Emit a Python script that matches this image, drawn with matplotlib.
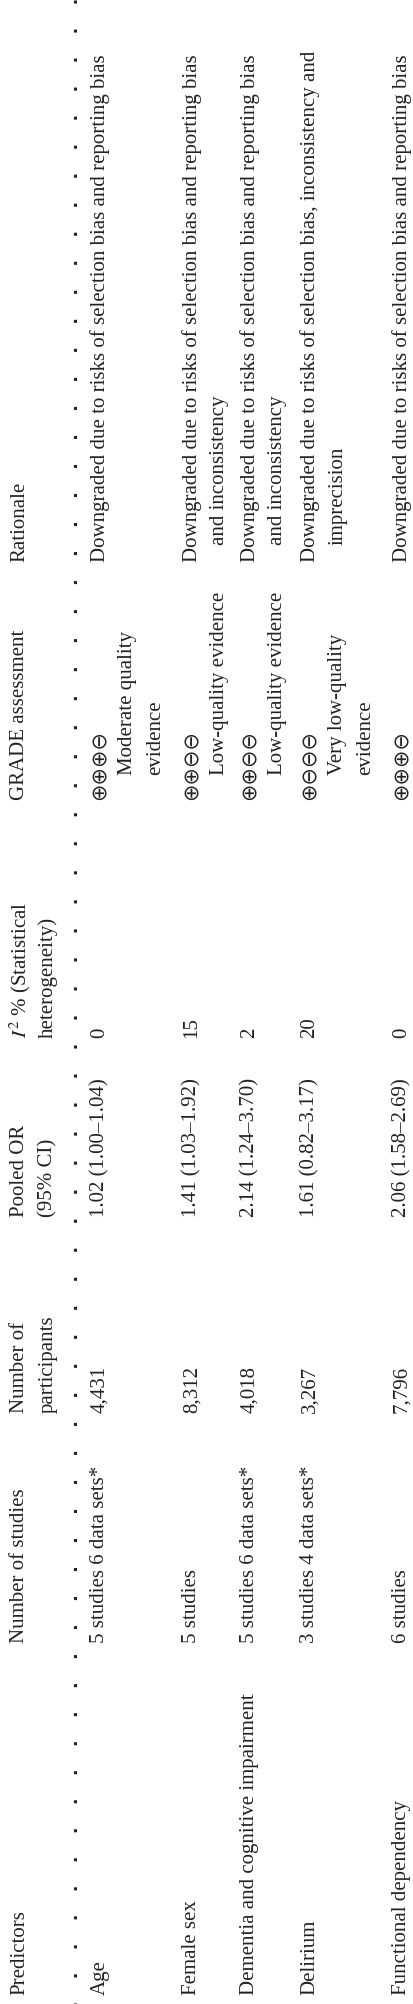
import matplotlib
matplotlib.use("Agg")
import matplotlib.pyplot as plt

plt.rcParams["font.family"] = ["Liberation Serif", "DejaVu Serif", "DejaVu Sans"]
plt.rcParams["mathtext.fontset"] = "stix"

# ===============================
# Table data
# ===============================

headers = [
    ["Predictors"],
    ["Number of studies"],
    ["Number of", "participants"],
    ["Pooled OR", "(95% CI)"],
    ["$\\mathit{I}^2$ % (Statistical", "heterogeneity)"],
    ["GRADE assessment"],
    ["Rationale"],
]
predictors = ["Age", "Female sex", "Dementia and cognitive impairment", "Delirium", "Functional dependency"]
studies = ["5 studies 6 data sets*", "5 studies", "5 studies 6 data sets*", "3 studies 4 data sets*", "6 studies"]
participants = ["4,431", "8,312", "4,018", "3,267", "7,796"]
pooled_or = ["1.02 (1.00\u20131.04)", "1.41 (1.03\u20131.92)", "2.14 (1.24\u20133.70)",
             "1.61 (0.82\u20133.17)", "2.06 (1.58\u20132.69)"]
i2 = ["0", "15", "2", "20", "0"]
grade_symbols = ["\u2295\u2295\u2295\u2296", "\u2295\u2295\u2296\u2296", "\u2295\u2295\u2296\u2296",
                 "\u2295\u2296\u2296\u2296", "\u2295\u2295\u2295\u2296"]
grade_labels = [["Moderate quality", "evidence"], ["Low-quality evidence"], ["Low-quality evidence"],
                ["Very low-quality", "evidence"], []]
rationale = [
    ["Downgraded due to risks of selection bias and reporting bias"],
    ["Downgraded due to risks of selection bias and reporting bias", "and inconsistency"],
    ["Downgraded due to risks of selection bias and reporting bias", "and inconsistency"],
    ["Downgraded due to risks of selection bias, inconsistency and", "imprecision"],
    ["Downgraded due to risks of selection bias and reporting bias"],
]

# ===============================
# Layout (pixels, page rotated 90 degrees)
# ===============================

W, H = 414, 2004
col_start = [1995, 1643, 1413, 1217, 1038, 800, 562]
header_x = 20
row_x = [100, 192, 250, 310, 402]
line_step = 28
fs = 15

fig = plt.figure(figsize=(W / 100, H / 100), dpi=100)
ax = fig.add_axes([0, 0, 1, 1])
ax.set_xlim(0, W)
ax.set_ylim(H, 0)
ax.axis("off")


def put(x, y, s, size=fs):
    ax.text(x, y, s, rotation=90, rotation_mode="anchor", ha="left", va="center",
            fontsize=size, color="#222222")


for c, lines in enumerate(headers):
    for k, s in enumerate(lines):
        put(header_x + k * line_step, col_start[c], s)

ax.plot([75, 75], [0, H], color="#222222", linewidth=2.2, linestyle=(0, (1, 8.5)))

for r, x in enumerate(row_x):
    put(x, col_start[0], predictors[r])
    put(x, col_start[1], studies[r])
    put(x, col_start[2], participants[r])
    put(x, col_start[3], pooled_or[r])
    put(x, col_start[4], i2[r])
    ax.text(x, col_start[5], grade_symbols[r], rotation=90, rotation_mode="anchor",
            ha="left", va="center", fontsize=fs, color="#222222", family="DejaVu Sans")
    for k, s in enumerate(grade_labels[r]):
        put(x + (k + 1) * line_step, col_start[5] - 25, s)
    for k, s in enumerate(rationale[r]):
        put(x + k * line_step, col_start[6] - (17 if k else 0), s)

fig.savefig("out.png", dpi=100)
